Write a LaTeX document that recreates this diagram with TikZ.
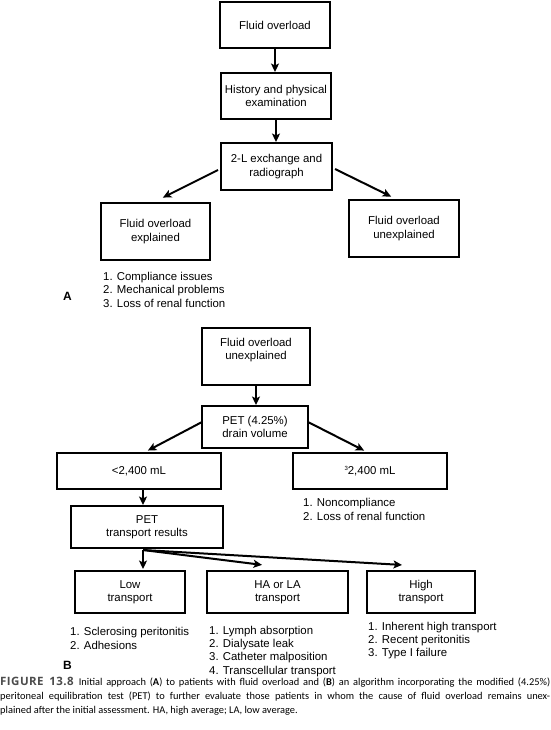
\documentclass[tikz,border=0pt]{standalone}
\usepackage{fontspec}
\setmainfont{Liberation Sans}
\newfontfamily\capfont{Carlito}
\newfontfamily\figfont[LetterSpace=4]{Open Sans}
\usetikzlibrary{arrows.meta}
\definecolor{capgray}{gray}{0.3}
\newcommand{\fs}{\fontsize{11.4}{13.3}\selectfont}
\newcommand{\smallthree}{\raisebox{3.5pt}{\fontsize{6}{6}\selectfont 3}}
\tikzset{
  box/.style={draw, line width=2.5pt, rectangle, inner sep=0pt, outer sep=0pt, anchor=north west},
  txt/.style={font=\fs, align=center, inner sep=0pt},
  lst/.style={font=\fs, align=left, anchor=base west, inner sep=0pt},
  lbl/.style={font=\bfseries\fontsize{12}{14}\selectfont, anchor=base west, inner sep=0pt},
  arr/.style={line width=2pt, -{Stealth[length=8.5pt,width=8pt,inset=2pt]}, shorten >=1pt},
}
\begin{document}
\begin{tikzpicture}[x=1pt,y=-1pt]
\useasboundingbox (0,0) rectangle (550,730);
\fill[white] (0,0) rectangle (550,730);

% ---------- Part A ----------
\node[box, minimum width=110pt, minimum height=46pt] (fo) at (220,2) {};
\node[txt] at (fo.center) {Fluid overload};
\node[box, minimum width=110pt, minimum height=46pt] (hp) at (221,73) {};
\node[txt] at (hp.center) {History and physical\\examination};
\node[box, minimum width=111pt, minimum height=47pt] (lx) at (221,143) {};
\node[txt] at (lx.center) {2-L exchange and\\radiograph};
\node[box, minimum width=109pt, minimum height=57pt] (ex) at (101,203) {};
\node[txt] at (ex.center) {Fluid overload\\explained};
\node[box, minimum width=110pt, minimum height=57pt] (un) at (349,200) {};
\node[txt] at (un.center) {Fluid overload\\unexplained};
% base anchor = baseline of the last line
\node[lst] (la) at (103,307) {1. Compliance issues\\2. Mechanical problems\\3. Loss of renal function};
\node[lbl] (A) at (63,300) {A};

\draw[arr] (fo.south) -- (fo.south |- hp.north);
\draw[arr] (hp.south) -- (hp.south |- lx.north);
\draw[arr] ([xshift=-3pt,yshift=-3.5pt]lx.west) -- ([xshift=6.5pt,yshift=5pt]ex.north);
\draw[arr] ([xshift=3pt,yshift=-2.5pt]lx.east) -- ([xshift=-12pt,yshift=3pt]un.north);

% ---------- Part B ----------
\node[box, minimum width=108pt, minimum height=57pt] (fou) at (202,328) {};
\node[txt, yshift=6.5pt] at (fou.center) {Fluid overload\\unexplained};
\node[box, minimum width=106pt, minimum height=42pt] (pv) at (202,406) {};
\node[txt] at (pv.center) {PET (4.25\%)\\drain volume};
\node[box, minimum width=164pt, minimum height=36pt] (lt) at (57,453) {};
\node[txt] at (lt.center) {<2,400 mL};
\node[box, minimum width=154pt, minimum height=36pt] (ge) at (293,453) {};
\node[txt] at (ge.center) {\smallthree2,400 mL};
\node[box, minimum width=152pt, minimum height=42pt] (pt) at (71,506) {};
\node[txt] at (pt.center) {PET\\transport results};
\node[box, minimum width=110pt, minimum height=42pt] (lo) at (75,571) {};
\node[txt] at (lo.center) {Low\\transport};
\node[box, minimum width=141pt, minimum height=42pt] (ha) at (207,571) {};
\node[txt] at (ha.center) {HA or LA\\transport};
\node[box, minimum width=108pt, minimum height=42pt] (hi) at (367,571) {};
\node[txt] at (hi.center) {High\\transport};

\node[lst] (lge) at (303,520) {1. Noncompliance\\2. Loss of renal function};
\node[lst] (llo) at (70,649) {1. Sclerosing peritonitis\\2. Adhesions};
\node[lst] (lha) at (209,674) {1. Lymph absorption\\2. Dialysate leak\\3. Catheter malposition\\4. Transcellular transport};
\node[lst] (lhi) at (368,656.6) {1. Inherent high transport\\2. Recent peritonitis\\3. Type I failure};
\node[lbl] (B) at (63,669) {B};

\draw[arr] (fou.south) -- (fou.south |- pv.north);
\draw[arr] ([yshift=5pt]pv.west) -- ([xshift=8pt,yshift=2pt]lt.north);
\draw[arr] ([yshift=5pt]pv.east) -- ([xshift=-5pt,yshift=2pt]ge.north);
\draw[arr] ([xshift=4pt]lt.south) -- ([xshift=4pt]lt.south |- pt.north);
\coordinate (br) at ([xshift=-4pt,yshift=-2pt]pt.south);
\draw[arr, shorten >=2pt] (br) -- (br |- lo.north);
\draw[arr] (br) -- ([xshift=-14.5pt,yshift=6pt]ha.north);
\draw[arr] (br) -- ([xshift=-18pt,yshift=6pt]hi.north);

% ---------- Caption ----------
\node[anchor=north west, text width=550pt, align=justify, inner sep=0pt,
      font=\capfont\fontsize{10.4}{14}\selectfont] (cap) at (0,677)
 {\noindent{\figfont\bfseries\color{capgray}\fontsize{11.5}{14}\selectfont FIGURE 13.8}\enspace Initial approach (\textbf{A}) to patients with fluid overload and (\textbf{B}) an algorithm incorporating the modified (4.25\%)\linebreak peritoneal equilibration test (PET) to further evaluate those patients in whom the cause of fluid overload remains unex-\linebreak plained after the initial assessment. HA, high average; LA, low average.};
\end{tikzpicture}
\end{document}
